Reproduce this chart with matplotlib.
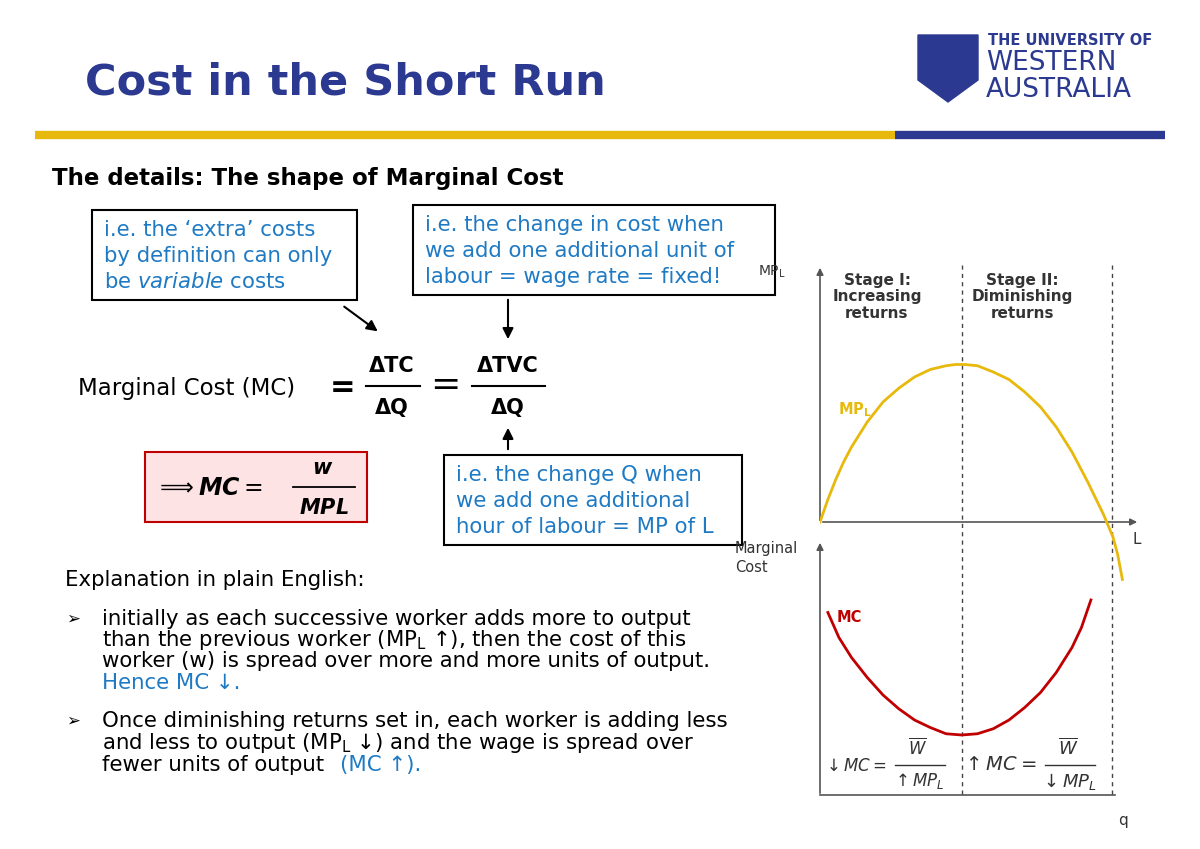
import matplotlib
matplotlib.use("Agg")
import matplotlib.pyplot as plt
from matplotlib.patches import Rectangle, FancyArrowPatch, Polygon

# data
L_vals = [0, 0.25, 0.5, 0.75, 1, 1.5, 2, 2.5, 3, 3.5, 4, 4.3, 4.6, 5, 5.5, 6, 6.5, 7, 7.5, 8, 8.5, 9, 9.1, 9.3, 9.45, 9.6]
MPL_vals = [0, 0.9, 1.7, 2.4, 3.0, 4.0, 4.8, 5.35, 5.8, 6.1, 6.25, 6.3, 6.3, 6.25, 6.0, 5.7, 5.2, 4.6, 3.8, 2.8, 1.6, 0.3, 0, -0.6, -1.3, -2.3]
q_vals = [0.25, 0.6, 1, 1.5, 2, 2.5, 3, 3.5, 4, 4.5, 5, 5.5, 6, 6.5, 7, 7.5, 8, 8.3, 8.6]
MC_vals = [7.3, 6.3, 5.5, 4.7, 4.0, 3.45, 3.0, 2.7, 2.45, 2.4, 2.45, 2.65, 3.0, 3.5, 4.1, 4.9, 5.9, 6.7, 7.8]

W, H = 1200, 849
fig = plt.figure(figsize=(12, 8.49), dpi=100)
ax = fig.add_axes([0, 0, 1, 1])
ax.set_xlim(0, W); ax.set_ylim(H, 0); ax.axis("off")

navy = "#2b3990"; blue = "#1f7ac4"; gold = "#e8b90d"; red = "#c00000"

ax.text(85, 82, "Cost in the Short Run", fontsize=31, fontweight="bold", color=navy, va="center")
ax.plot([35, 895], [135, 135], color=gold, lw=6, solid_capstyle="butt")
ax.plot([895, 1165], [135, 135], color=navy, lw=6, solid_capstyle="butt")
ax.add_patch(Polygon([[918, 35], [978, 35], [978, 80], [948, 102], [918, 80]], closed=True, fc=navy, ec=navy))
ax.text(988, 40, "THE UNIVERSITY OF", fontsize=10.5, fontweight="bold", color=navy, va="center")
ax.text(986, 63, "WESTERN", fontsize=19, color=navy, va="center")
ax.text(986, 90, "AUSTRALIA", fontsize=19, color=navy, va="center")

ax.text(52, 178, "The details: The shape of Marginal Cost", fontsize=16.5, fontweight="bold", va="center")

def box(x0, y0, x1, y1, lines, ec="black", fc="white"):
    ax.add_patch(Rectangle((x0, y0), x1 - x0, y1 - y0, fc=fc, ec=ec, lw=1.5))
    for i, l in enumerate(lines):
        ax.text(x0 + 12, y0 + 20 + i * 26, l, fontsize=15.3, color=blue, va="center")

box(92, 210, 357, 300, ["i.e. the \u2018extra\u2019 costs", "by definition can only", "be $\\it{variable}$ costs"])
box(413, 205, 775, 295, ["i.e. the change in cost when", "we add one additional unit of", "labour = wage rate = fixed!"])
box(444, 455, 742, 545, ["i.e. the change Q when", "we add one additional", "hour of labour = MP of L"])

def arrow(x0, y0, x1, y1):
    ax.add_patch(FancyArrowPatch((x0, y0), (x1, y1), arrowstyle="-|>", mutation_scale=16, color="black", lw=1.5))
arrow(342, 305, 380, 333)
arrow(508, 297, 508, 342)
arrow(508, 452, 508, 425)

ax.text(78, 388, "Marginal Cost (MC)", fontsize=16.5, va="center")
ax.text(343, 387, "=", fontsize=22, fontweight="bold", va="center", ha="center")
ax.text(392, 366, "\u0394TC", fontsize=15, fontweight="bold", va="center", ha="center")
ax.plot([366, 420], [386, 386], color="black", lw=1.5)
ax.text(392, 408, "\u0394Q", fontsize=15, fontweight="bold", va="center", ha="center")
ax.text(445, 385, "=", fontsize=26, va="center", ha="center")
ax.text(508, 366, "\u0394TVC", fontsize=15, fontweight="bold", va="center", ha="center")
ax.plot([472, 545], [386, 386], color="black", lw=1.5)
ax.text(508, 408, "\u0394Q", fontsize=15, fontweight="bold", va="center", ha="center")

ax.add_patch(Rectangle((145, 452), 222, 70, fc="#fde3e3", ec=red, lw=1.5))
ax.text(155, 488, "$\\Longrightarrow \\boldsymbol{MC} =$", fontsize=17, va="center")
ax.text(323, 468, "$\\boldsymbol{w}$", fontsize=15, va="center", ha="center")
ax.plot([293, 355], [487, 487], color="black", lw=1.3)
ax.text(324, 508, "$\\boldsymbol{MPL}$", fontsize=15, va="center", ha="center")

fs = 15.3
ax.text(65, 580, "Explanation in plain English:", fontsize=fs, va="center")
ax.text(66, 619, "\u27a2", fontsize=12, va="center")
ax.text(102, 619, "initially as each successive worker adds more to output", fontsize=fs, va="center")
ax.text(102, 640, "than the previous worker (MP$_\\mathregular{L}$ \u2191), then the cost of this", fontsize=fs, va="center")
ax.text(102, 661, "worker (w) is spread over more and more units of output.", fontsize=fs, va="center")
ax.text(102, 683, "Hence MC \u2193.", fontsize=fs, va="center", color=blue)
ax.text(66, 721, "\u27a2", fontsize=12, va="center")
ax.text(102, 721, "Once diminishing returns set in, each worker is adding less", fontsize=fs, va="center")
ax.text(102, 743, "and less to output (MP$_\\mathregular{L}$ \u2193) and the wage is spread over", fontsize=fs, va="center")
ax.text(102, 765, "fewer units of output", fontsize=fs, va="center")
ax.text(340, 765, "(MC \u2191).", fontsize=fs, va="center", color=blue)

def fx(px): return px / W
def fy(py): return 1 - py / H
ax1 = fig.add_axes([fx(820), fy(585), fx(1135) - fx(820), fy(270) - fy(585)])
ax1.set_xlim(0, 10); ax1.set_ylim(-2.52, 10.08); ax1.axis("off")
ax1.plot(L_vals, MPL_vals, color=gold, lw=2)
ax2 = fig.add_axes([fx(820), fy(795), fx(1135) - fx(820), fy(545) - fy(795)])
ax2.set_xlim(0, 10); ax2.set_ylim(0, 10); ax2.axis("off")
ax2.plot(q_vals, MC_vals, color=red, lw=2)

g = "#555555"
ax.add_patch(FancyArrowPatch((820, 523), (820, 265), arrowstyle="-|>", mutation_scale=10, color=g, lw=1.2))
ax.add_patch(FancyArrowPatch((820, 522), (1140, 522), arrowstyle="-|>", mutation_scale=10, color=g, lw=1.2))
ax.add_patch(FancyArrowPatch((820, 796), (820, 540), arrowstyle="-|>", mutation_scale=10, color=g, lw=1.2))
ax.plot([820, 1115], [795, 795], color=g, lw=1.2)
ax.plot([962, 962], [265, 797], color="#444444", lw=1, ls=(0, (3, 3)))
ax.plot([1112, 1112], [265, 797], color="#444444", lw=1, ls=(0, (3, 3)))

ax.text(758, 272, "MP$_\\mathregular{L}$", fontsize=10, va="center", color="#333333")
ax.text(1133, 540, "L", fontsize=11, va="center", color="#333333")
ax.text(735, 548, "Marginal", fontsize=10.5, va="center", color="#333333")
ax.text(735, 568, "Cost", fontsize=10.5, va="center", color="#333333")
ax.text(1118, 820, "q", fontsize=11, va="center", color="#333333")
ax.text(877, 297, "Stage I:\nIncreasing\nreturns", fontsize=11, fontweight="bold", ha="center", va="center", color="#333333", linespacing=1.1)
ax.text(1022, 297, "Stage II:\nDiminishing\nreturns", fontsize=11, fontweight="bold", ha="center", va="center", color="#333333", linespacing=1.1)
ax.text(838, 410, "MP$_\\mathregular{L}$", fontsize=10.5, fontweight="bold", color=gold, va="center")
ax.text(837, 617, "MC", fontsize=10.5, fontweight="bold", color=red, va="center")

ax.text(823, 766, "$\\downarrow MC = $", fontsize=12, va="center", color="#333333")
ax.text(917, 748, "$\\overline{W}$", fontsize=12, va="center", ha="center", color="#333333")
ax.plot([895, 945], [765, 765], color="#333333", lw=1)
ax.text(918, 781, "$\\uparrow MP_L$", fontsize=12, va="center", ha="center", color="#333333")
ax.text(962, 764, "$\\uparrow MC = $", fontsize=14, va="center", color="#333333")
ax.text(1068, 748, "$\\overline{W}$", fontsize=13, va="center", ha="center", color="#333333")
ax.plot([1045, 1095], [765, 765], color="#333333", lw=1)
ax.text(1068, 781, "$\\downarrow MP_L$", fontsize=13, va="center", ha="center", color="#333333")

fig.savefig("out.png", dpi=100)
